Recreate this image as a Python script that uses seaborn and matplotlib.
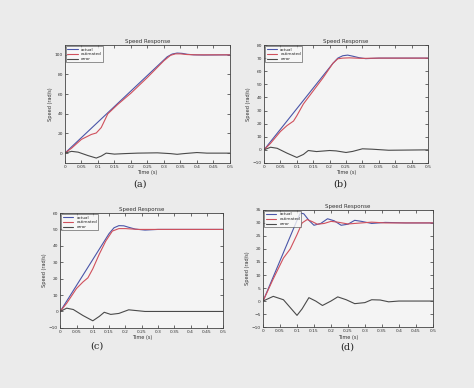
import numpy as np
import pandas as pd
import matplotlib
matplotlib.use("Agg")
import matplotlib.pyplot as plt
import seaborn as sns

# ---- data ----
series_names = ["actual", "estimated", "error"]
panel_tags = ["(a)", "(b)", "(c)", "(d)"]
x_ticks = [0, 0.05, 0.1, 0.15, 0.2, 0.25, 0.3, 0.35, 0.4, 0.45, 0.5]
x_tick_labels = ["0", "0.05", "0.1", "0.15", "0.2", "0.25", "0.3", "0.35", "0.4", "0.45", "0.5"]

# (a) 100 rad/s
t_a_act = [0, 0.31, 0.325, 0.34, 0.355, 0.37, 0.39, 0.42, 0.5]
v_a_act = [0, 98, 100.8, 101.8, 101.5, 100.6, 100, 99.8, 100]
t_a_est = [0, 0.02, 0.05, 0.08, 0.095, 0.11, 0.13, 0.16, 0.2, 0.25, 0.3, 0.32, 0.335, 0.35, 0.37, 0.4, 0.5]
v_a_est = [0, 5, 14, 19, 20.5, 26, 40, 49.5, 61, 77, 94, 99.5, 101, 101, 100.3, 100, 100]
t_a_err = [0, 0.02, 0.04, 0.07, 0.095, 0.11, 0.125, 0.15, 0.18, 0.22, 0.28, 0.32, 0.34, 0.36, 0.4, 0.43, 0.5]
v_a_err = [0, 1.8, 1, -2.5, -5, -3, 0, -1, -0.5, 0, 0.3, -0.5, -1.2, -0.5, 0.6, 0, 0]
y_a_ticks = [0, 20, 40, 60, 80, 100]

# (b) 70 rad/s
t_b_act = [0, 0.21, 0.225, 0.24, 0.255, 0.27, 0.29, 0.31, 0.35, 0.5]
v_b_act = [0, 66, 70, 71.8, 72.3, 71.5, 70.3, 69.6, 70, 70]
t_b_est = [0, 0.02, 0.05, 0.07, 0.09, 0.1, 0.12, 0.15, 0.18, 0.21, 0.225, 0.24, 0.26, 0.3, 0.35, 0.5]
v_b_est = [0, 5, 14, 18.5, 22, 26, 35, 45, 55, 66, 69.5, 70, 70.2, 69.8, 70, 70]
t_b_err = [0, 0.02, 0.04, 0.07, 0.1, 0.12, 0.135, 0.16, 0.2, 0.22, 0.25, 0.27, 0.3, 0.33, 0.38, 0.5]
v_b_err = [0, 2, 1.2, -2.5, -5.8, -3.5, -0.5, -1.3, -0.5, -0.8, -2, -1.2, 0.8, 0.5, -0.3, 0]
y_b_ticks = [-10, 0, 10, 20, 30, 40, 50, 60, 70, 80]

# (c) 50 rad/s
t_c_act = [0, 0.15, 0.165, 0.18, 0.195, 0.21, 0.23, 0.26, 0.3, 0.5]
v_c_act = [0, 47.5, 51, 52.3, 52.2, 51.3, 50.2, 49.6, 50, 50]
t_c_est = [0, 0.02, 0.05, 0.07, 0.085, 0.1, 0.12, 0.14, 0.16, 0.18, 0.2, 0.24, 0.5]
v_c_est = [0, 5, 14, 18, 20.5, 26, 35, 43, 49, 50.5, 50.5, 50, 50]
t_c_err = [0, 0.02, 0.04, 0.07, 0.1, 0.12, 0.135, 0.155, 0.18, 0.21, 0.23, 0.26, 0.5]
v_c_err = [0, 2, 1.2, -2.5, -5.7, -3, -0.5, -1.8, -1.2, 1, 0.6, 0, 0]
y_c_ticks = [-10, 0, 10, 20, 30, 40, 50, 60]

# (d) 30 rad/s
t_d_act = [0, 0.05, 0.1, 0.11, 0.12, 0.135, 0.15, 0.17, 0.19, 0.21, 0.23, 0.25, 0.27, 0.29, 0.32, 0.36, 0.42, 0.5]
v_d_act = [0, 15.5, 31, 33.8, 33.5, 31, 29.1, 29.8, 31.6, 30.8, 29.1, 29.5, 31, 30.6, 29.8, 30.2, 30, 30]
t_d_est = [0, 0.03, 0.06, 0.08, 0.1, 0.115, 0.13, 0.145, 0.16, 0.18, 0.2, 0.22, 0.25, 0.28, 0.32, 0.36, 0.5]
v_d_est = [0, 8.5, 16.5, 20, 25.5, 30, 31.3, 30.5, 29.5, 29.8, 30.6, 30.3, 29.6, 29.9, 30.3, 30, 30]
t_d_err = [0, 0.03, 0.06, 0.08, 0.1, 0.115, 0.135, 0.155, 0.175, 0.2, 0.22, 0.245, 0.27, 0.3, 0.32, 0.345, 0.37, 0.4, 0.5]
v_d_err = [0, 1.8, 0.5, -2.5, -5.5, -3, 1.3, 0, -1.7, 0, 1.6, 0.5, -1, -0.6, 0.5, 0.4, -0.3, 0, 0]
y_d_ticks = [-10, -5, 0, 5, 10, 15, 20, 25, 30, 35]

panels = [
    ((t_a_act, v_a_act), (t_a_est, v_a_est), (t_a_err, v_a_err), y_a_ticks, (-10, 110)),
    ((t_b_act, v_b_act), (t_b_est, v_b_est), (t_b_err, v_b_err), y_b_ticks, (-10, 80)),
    ((t_c_act, v_c_act), (t_c_est, v_c_est), (t_c_err, v_c_err), y_c_ticks, (-10, 60)),
    ((t_d_act, v_d_act), (t_d_est, v_d_est), (t_d_err, v_d_err), y_d_ticks, (-10, 35)),
]

# axes rectangles in figure fractions, measured on the reference
axes_rects = [
    [0.137, 0.580, 0.348, 0.304],
    [0.557, 0.580, 0.346, 0.304],
    [0.127, 0.155, 0.344, 0.296],
    [0.555, 0.157, 0.358, 0.302],
]
tag_pos = [(0.295, 0.526), (0.717, 0.526), (0.204, 0.108), (0.732, 0.106)]

palette = {"actual": "#4a55a8", "estimated": "#d0505c", "error": "#4a4a4a"}

sns.set_style("ticks")
plt.rcParams["font.family"] = ["DejaVu Sans"]

fig = plt.figure(figsize=(4.74, 3.88), dpi=100)
fig.patch.set_facecolor("#ebebeb")

for i, (act, est, err, yt, ylim) in enumerate(panels):
    ax = fig.add_axes(axes_rects[i])
    ax.set_facecolor("#f4f4f4")
    frames = []
    for name, (tt, vv) in zip(series_names, [act, est, err]):
        frames.append(pd.DataFrame({"t": tt, "v": vv, "series": name}))
    df = pd.concat(frames, ignore_index=True)
    sns.lineplot(data=df, x="t", y="v", hue="series", hue_order=series_names,
                 palette=palette, linewidth=0.8, sort=False, estimator=None,
                 ax=ax, legend=False)
    ax.set_xlim(0, 0.5)
    ax.set_ylim(*ylim)
    ax.set_xticks(x_ticks)
    ax.set_xticklabels(x_tick_labels)
    ax.set_yticks(yt)
    ax.tick_params(direction="in", length=2, width=0.5, labelsize=3.2,
                   top=True, right=True, pad=1.5, colors="#333333")
    for s in ax.spines.values():
        s.set_linewidth(0.6)
        s.set_color("#444444")
    ax.set_title("Speed Response", fontsize=4, pad=1.5, color="#333333")
    ax.set_xlabel("Time (s)", fontsize=3.6, labelpad=1, color="#333333")
    ax.set_ylabel("Speed (rad/s)", fontsize=3.6, labelpad=1.5, color="#333333")
    handles = [plt.Line2D([], [], color=palette[n], lw=0.8) for n in series_names]
    leg = ax.legend(handles, series_names, loc="upper left", fontsize=3,
                    frameon=True, fancybox=False, borderpad=0.3,
                    handlelength=2.5, labelspacing=0.2, borderaxespad=0.3)
    leg.get_frame().set_linewidth(0.5)
    leg.get_frame().set_edgecolor("#444444")
    leg.get_frame().set_facecolor("#f8f8f8")
    fig.text(tag_pos[i][0], tag_pos[i][1], panel_tags[i], fontsize=7,
             family="DejaVu Serif", ha="center", va="center", color="#222222")

fig.savefig("out.png", dpi=100, facecolor=fig.get_facecolor())
